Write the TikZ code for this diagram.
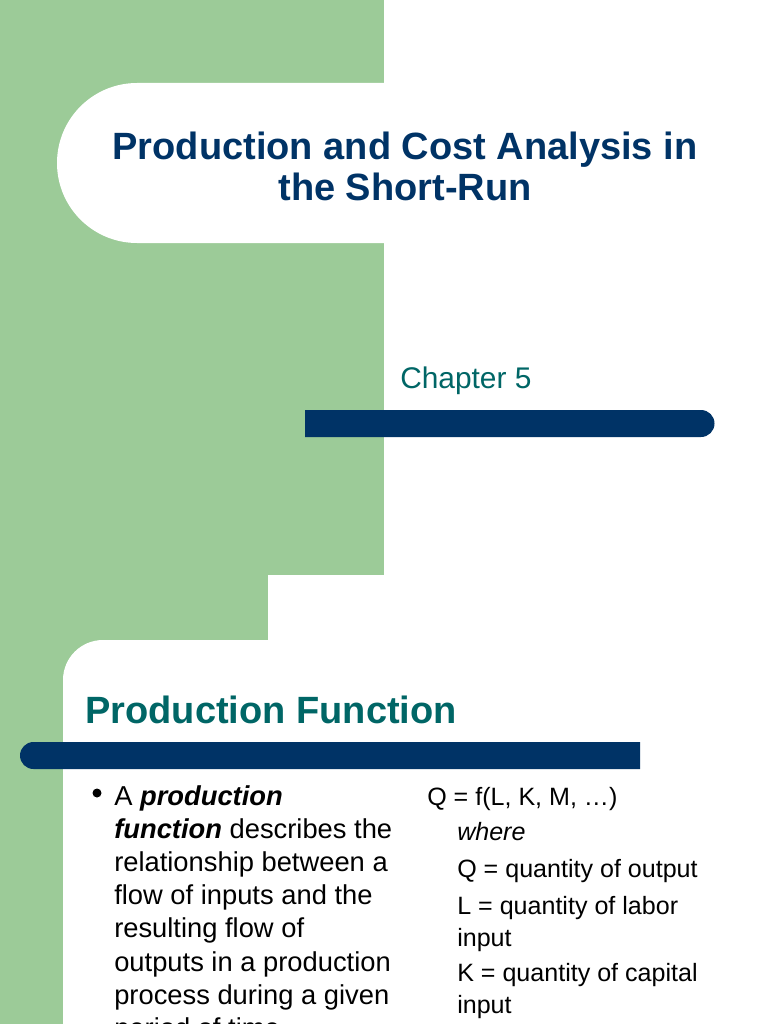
\documentclass[tikz,border=0pt]{standalone}
\usepackage{fontspec}
\setmainfont{Liberation Sans}
\definecolor{sgreen}{HTML}{9CCB98}
\definecolor{dblue}{HTML}{003366}
\definecolor{teal}{HTML}{006666}
\begin{document}
\begin{tikzpicture}[x=0.75pt,y=-0.75pt,
  body/.style={anchor=base west,font=\fontsize{20.5}{24}\selectfont,inner sep=0},
  rbody/.style={anchor=base west,font=\fontsize{18.8}{22}\selectfont,inner sep=0},
  ttl/.style={font=\fontsize{28.5}{34}\selectfont\bfseries,text=dblue,inner sep=0}]
\useasboundingbox (0,0) rectangle (768,1024);
\clip (0,0) rectangle (768,1024);
\fill[white] (0,0) rectangle (768,1024);
% slide 1 green
\fill[sgreen] (0,0) rectangle (384,575);
\fill[sgreen] (0,575) rectangle (268,1024);
% title shape
\fill[white] (384,83) -- (137,83) arc[start angle=270,end angle=90,radius=80] -- (384,243) -- cycle;
\node[ttl,anchor=base] (t1) at (405,159) {Production and Cost Analysis in};
\node[ttl,anchor=base] (t2) at (405,200) {the Short-Run};
\node[anchor=base west,inner sep=0,text=teal,font=\fontsize{22.4}{26}\selectfont] (ch) at (400,388) {Chapter 5};
\fill[dblue] (305,410) -- (701,410) arc[start angle=270,end angle=450,radius=13.5] -- (305,437) -- cycle;
% slide 2 white region
\fill[white] (63,1024) -- (63,680) arc[start angle=180,end angle=270,radius=40] -- (768,640) -- (768,1024) -- cycle;
\node[anchor=base west,inner sep=0,text=teal,font=\fontsize{28.5}{34}\selectfont\bfseries] (h) at (85,723) {Production Function};
\fill[dblue] (640,742) -- (33.5,742) arc[start angle=270,end angle=90,radius=13.5] -- (640,769) -- cycle;
\fill (97,793) circle[radius=4.5] coordinate (bul);
\node[body] (l1) at (114,805) {A \textbf{\textit{production}}};
\node[body] (l2) at (114,838) {\textbf{\textit{function}} describes the};
\node[body] (l3) at (114,871) {relationship between a};
\node[body] (l4) at (114,904) {flow of inputs and the};
\node[body] (l5) at (114,937) {resulting flow of};
\node[body] (l6) at (114,971) {outputs in a production};
\node[body] (l7) at (114,1004) {process during a given};
\node[body] (l8) at (114,1037) {period of time.};
\node[rbody] (r1) at (427,805) {Q = f(L, K, M, …)};
\node[rbody] (r2) at (457,840) {\textit{where}};
\node[rbody] (r3) at (457,877) {Q = quantity of output};
\node[rbody] (r4) at (457,914) {L = quantity of labor};
\node[rbody] (r5) at (457,946) {input};
\node[rbody] (r6) at (457,981) {K = quantity of capital};
\node[rbody] (r7) at (457,1013) {input};
\end{tikzpicture}
\end{document}
